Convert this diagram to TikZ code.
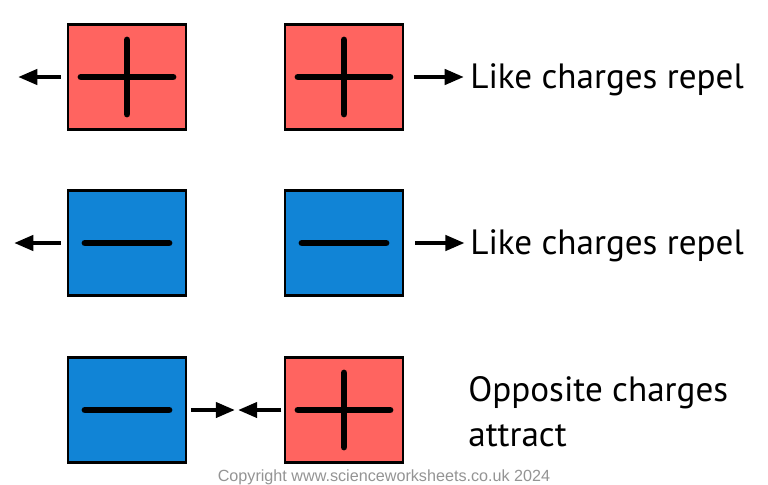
\documentclass[tikz,border=0pt]{standalone}
\usepackage{fontspec}
\setmainfont{PT Sans}
\newfontfamily\copyfont{Liberation Sans}
\usetikzlibrary{arrows.meta,calc}
\definecolor{plusred}{RGB}{255,100,96}
\definecolor{minusblue}{RGB}{17,132,214}
\begin{document}
\begin{tikzpicture}[x=0.02cm, y=-0.02cm,
    chargebox/.style={draw=black, line width=1.2pt, minimum width=2.36cm, minimum height=2.1cm, inner sep=0pt},
    plusbox/.style={chargebox, fill=plusred},
    minusbox/.style={chargebox, fill=minusblue},
    signline/.style={line width=3.9pt, line cap=round},
    forcearrow/.style={line width=2.5pt, -{Triangle[length=11pt,width=8.5pt]}},
    rulenote/.style={font=\fontsize{20}{25.5}\selectfont, inner sep=0pt, anchor=base west, align=left}]
    \fill[white] (0,0) rectangle (768,484);
    \useasboundingbox (0,0) rectangle (768,484);
    % ladungen
    \node[plusbox] (pA) at (127,77) {};
    \node[plusbox] (pB) at (344,77) {};
    \node[minusbox] (nA) at (127,243) {};
    \node[minusbox] (nB) at (344,243) {};
    \node[minusbox] (nC) at (127,410) {};
    \node[plusbox] (pD) at (344,410) {};
    \foreach \b in {pA,pB,pD} {
        \draw[signline] ($(\b.center)+(-46,0)$) -- ($(\b.center)+(46,0)$);
        \draw[signline] ($(\b.center)+(0,-37)$) -- ($(\b.center)+(0,37)$);
    }
    \foreach \b in {nA,nB,nC}
        \draw[signline] ($(\b.center)+(-42,0)$) -- ($(\b.center)+(42,0)$);
    % texte
    \node[rulenote] (tA) at (470,88) {Like charges repel};
    \node[rulenote] (tB) at (470,254) {Like charges repel};
    \node[rulenote] (tC) at (468,446) {Opposite charges\\attract};
    \node[font=\copyfont\fontsize{9.2}{11}\selectfont, text=black!42, anchor=base] (copy) at (384,481) {Copyright www.scienceworksheets.co.uk 2024};
    % kraefte
    \coordinate (fA) at (18,77);
    \coordinate (fB) at (14,243);
    \coordinate (meet) at (236.5,410);
    \draw[forcearrow, shorten <=3.4pt] (pA.west) -- (fA);
    \draw[forcearrow, shorten <=5.5pt, shorten >=3.4pt] (pB.east) -- (pB.east -| tA.west);
    \draw[forcearrow, shorten <=3.4pt] (nA.west) -- (fB);
    \draw[forcearrow, shorten <=6.5pt, shorten >=3pt] (nB.east) -- (nB.east -| tB.west);
    \draw[forcearrow, shorten <=2.2pt, shorten >=0.8pt] (nC.east) -- (meet);
    \draw[forcearrow, shorten <=1.5pt, shorten >=0.8pt] (pD.west) -- (meet);
\end{tikzpicture}
\end{document}
